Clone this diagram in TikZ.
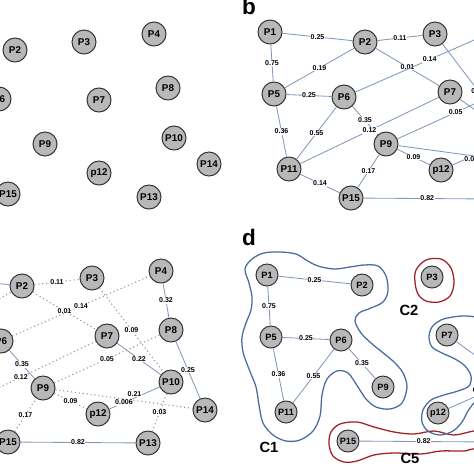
\documentclass[tikz,border=0pt]{standalone}
\usepackage{fontspec}
\setmainfont{Liberation Sans}

\definecolor{edgeblue}{RGB}{128,152,192}
\definecolor{clublue}{RGB}{72,108,160}
\definecolor{clured}{RGB}{160,32,36}

\tikzset{
  pnode/.style={circle, draw=black!80, line width=0.7pt, fill=black!28,
    minimum size=0.6cm, inner sep=0pt, font=\bfseries\fontsize{7}{7}\selectfont},
  dnode/.style={pnode, minimum size=0.55cm, font=\bfseries\fontsize{6.5}{6.5}\selectfont},
  elabel/.style={fill=white, inner sep=0.4pt, font=\bfseries\fontsize{5}{5}\selectfont},
  bedge/.style={draw=edgeblue, line width=0.6pt},
  dedge/.style={draw=black!40, dotted, line width=0.8pt},
  hull/.style={line width=0.9pt, smooth cycle, tension=0.55},
  panel/.style={font=\bfseries\fontsize{16}{16}\selectfont, anchor=base, inner sep=0pt},
  clabel/.style={font=\bfseries\fontsize{10.5}{10.5}\selectfont, inner sep=0pt}
}

% edges of the layout (from/to/weight/label shift in pt)
\newcommand{\keptedges}{1/2/0.25/0, 1/5/0.75/0, 5/6/0.25/0, 5/11/0.36/0, 6/11/0.55/0,
  6/9/0.35/0, 4/8/0.32/0, 8/14/0.25/0, 7/10/0.22/0, 10/12/0.21/3, 15/13/0.82/0}
\newcommand{\cutedges}{2/3/0.11/0, 5/2/0.19/0, 2/7/0.01/0, 6/4/0.14/0, 3/10/0.09/0,
  9/8/0.05/0, 11/7/0.12/0, 9/12/0.09/0, 9/14/0.006/-2.5, 10/13/0.03/0, 15/9/0.17/0,
  11/15/0.14/0}

\begin{document}
\begin{tikzpicture}[x=0.025cm, y=-0.025cm]
  \useasboundingbox (0,0) rectangle (474,474);

  % a: points only
  \begin{scope}
    \clip (0,0) rectangle (236,224);
    \foreach \n/\x/\y/\t in {2/15/50/P2, 3/84/42/P3, 4/154/34/P4, 6/-1/99/P6,
        7/99/100/P7, 8/168/88/P8, 9/45/144/P9, 10/174/138/P10, 12/99/173/p12,
        13/149/197/P13, 14/209/164/P14, 15/8/194/P15}
      \node[pnode] (a\n) at (\x,\y) {\t};
  \end{scope}

  % b: full weighted graph
  \node[panel] (lb) at (249,14) {b};
  \begin{scope}
    \clip (237,0) rectangle (474,224);
    \begin{scope}[shift={(237,0)}]
      \foreach \n/\x/\y/\t in {1/33/32/P1, 2/128/42/P2, 3/198/34/P3, 5/37/94/P5,
          6/107/97/P6, 7/213/92/P7, 9/149/144/P9, 11/52/169/P11, 12/204/170/p12,
          15/114/198/P15}
        \node[pnode] (b\n) at (\x,\y) {\t};
      \foreach \n/\x/\y in {4/267/27, 8/277/86, 10/277/138, 13/254/199, 14/311/166}
        \coordinate (b\n) at (\x,\y);
      \foreach \u/\v/\w/\d in \keptedges
        \draw[bedge] (b\u) -- (b\v) node[elabel, midway, yshift=\d pt] {\w};
      \foreach \u/\v/\w/\d in \cutedges
        \draw[bedge] (b\u) -- (b\v) node[elabel, midway, yshift=\d pt] {\w};
    \end{scope}
  \end{scope}

  % c: kept edges solid, cut edges dotted
  \begin{scope}
    \clip (0,225) rectangle (236,474);
    \begin{scope}[shift={(-106,244)}]
      \foreach \n/\x/\y/\t in {2/128/42/P2, 3/198/34/P3, 4/267/27/P4, 6/107/97/P6,
          7/213/92/P7, 8/277/86/P8, 9/149/144/P9, 10/277/138/P10, 12/204/170/p12,
          13/254/199/P13, 14/311/166/P14, 15/114/198/P15}
        \node[pnode] (c\n) at (\x,\y) {\t};
      \foreach \n/\x/\y in {1/33/32, 5/37/94, 11/52/169}
        \coordinate (c\n) at (\x,\y);
      \foreach \u/\v/\w/\d in \keptedges
        \draw[bedge] (c\u) -- (c\v) node[elabel, midway, yshift=\d pt] {\w};
      \foreach \u/\v/\w/\d in \cutedges
        \draw[dedge] (c\u) -- (c\v) node[elabel, midway, yshift=\d pt] {\w};
    \end{scope}
  \end{scope}

  % d: clusters
  \node[panel] (ld) at (249,245) {d};
  \begin{scope}
    \clip (237,225) rectangle (474,474);
    % cluster hulls
    \draw[clublue, hull] plot coordinates {(245,269) (252,259) (264,253) (280,252)
      (296,254) (306,260) (318,266) (334,269) (350,267) (364,265) (378,266)
      (386,276) (388,291) (383,302) (371,308) (359,313) (355,321) (361,333)
      (371,343) (382,352) (394,362) (403,373) (407,387) (402,403) (390,409)
      (376,407) (366,399) (358,387) (348,373) (337,371) (327,379) (322,395)
      (320,416) (313,431) (300,440) (286,441) (273,435) (263,423) (259,405)
      (256,387) (249,369) (243,352) (242,337) (246,323) (251,310) (252,297)
      (249,283)};
    \draw[clured, hull] plot coordinates {(416,270) (426,260) (441,259) (451,268)
      (454,283) (450,296) (439,302) (426,301) (418,294) (415,282)};
    \draw[clured, hull] plot coordinates {(357,422) (374,427) (394,432) (414,434)
      (434,431) (454,435) (474,431) (495,430) (495,452) (474,449) (464,451)
      (441,451) (421,454) (394,453) (374,455) (357,461) (344,462) (333,456)
      (329,444) (331,432) (340,424)};
    \draw[clublue, line width=0.9pt, smooth, tension=0.55] plot coordinates {
      (485,318) (466,316) (453,317) (441,320) (432,327) (429,337) (432,347)
      (442,353) (455,359) (465,366) (471,376) (469,386) (458,391) (444,395)
      (431,400) (423,410) (422,422) (428,431) (440,435) (453,431) (462,422)
      (468,411) (476,401) (485,398)};
    \begin{scope}[shift={(234,243)}]
      \foreach \n/\x/\y/\t in {1/33/32/P1, 2/128/42/P2, 3/198/34/P3, 5/37/94/P5,
          6/107/97/P6, 7/213/92/P7, 9/149/144/P9, 11/52/169/P11, 12/204/170/p12,
          15/114/198/P15}
        \node[dnode] (d\n) at (\x,\y) {\t};
      \foreach \n/\x/\y in {4/267/27, 8/277/86, 10/277/138, 13/254/199, 14/311/166}
        \coordinate (d\n) at (\x,\y);
      \foreach \u/\v/\w/\d in \keptedges
        \draw[bedge] (d\u) -- (d\v) node[elabel, midway, yshift=\d pt] {\w};
    \end{scope}
    \node[clabel] (c1) at (269,447) {C1};
    \node[clabel] (c2) at (409,310) {C2};
    \node[clabel] (c5) at (410,458) {C5};
  \end{scope}
\end{tikzpicture}
\end{document}
